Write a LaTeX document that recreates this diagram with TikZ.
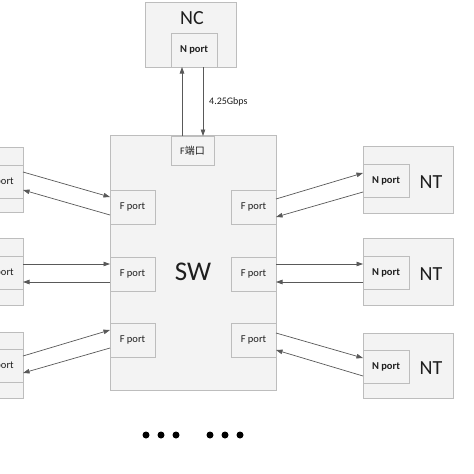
\documentclass[tikz,border=0pt]{standalone}
\usepackage{fontspec}
\setmainfont{Carlito}
\newfontfamily\cjkfont{Noto Sans CJK SC}
\usetikzlibrary{arrows.meta,calc}
\definecolor{boxline}{HTML}{BDBDBD}
\definecolor{boxfill}{HTML}{F3F3F3}
\definecolor{linkgray}{HTML}{595959}
\definecolor{txt}{HTML}{1E1E1E}
\begin{document}
\begin{tikzpicture}[x=1pt,y=-1pt,
  box/.style={draw=boxline, fill=boxfill, inner sep=0pt, outer sep=0pt, line width=0.7pt, text=txt},
  fportbox/.style={box, minimum width=45pt, minimum height=34pt, font=\fontsize{10.5}{11}\selectfont},
  nportbox/.style={box, minimum width=46pt, minimum height=33pt, font=\bfseries\fontsize{10.5}{11}\selectfont},
  ntbox/.style={box, minimum width=90pt, minimum height=66pt},
  biglabel/.style={inner sep=0pt, text=txt, font=\fontsize{20}{22}\selectfont},
  link/.style={draw=linkgray, line width=0.7pt, -{Triangle[length=6.5pt,width=4.5pt]}},
]
\useasboundingbox (0,0) rectangle (474,474);
\clip (0,0) rectangle (474,474);
\fill[white] (0,0) rectangle (474,474);

% NC
\node[box, minimum width=91pt, minimum height=65pt] (nc) at (190.5,34.5) {};
\node[biglabel] (nclabel) at (192,18) {NC};
\node[nportbox, minimum height=34pt] (ncp) at (194,50) {N port};

% SW
\node[box, minimum width=166pt, minimum height=255pt] (sw) at (193,262.5) {};
\node[biglabel, font=\fontsize{27}{29}\selectfont] (swlabel) at (193,272) {SW};
\node[fportbox, minimum width=43pt, minimum height=29pt, font=\fontsize{10}{11}\selectfont] (tf) at (192.5,150.5) {F{\cjkfont 端口}};

% F ports of SW
\node[fportbox] (lf1) at (132.5,207) {F port};
\node[fportbox] (lf2) at (132.5,274) {F port};
\node[fportbox] (lf3) at (132.5,340) {F port};
\node[fportbox] (rf1) at (253.5,207) {F port};
\node[fportbox] (rf2) at (253.5,274) {F port};
\node[fportbox] (rf3) at (253.5,340) {F port};

% NT on the right
\node[ntbox, minimum height=67pt] (nt1) at (408,179.5) {};
\node[ntbox, minimum height=67pt] (nt2) at (408,271.5) {};
\node[ntbox, minimum height=65pt] (nt3) at (408,365.5) {};
\node[nportbox] (rn1) at (386,180.5) {N port};
\node[nportbox] (rn2) at (386,272.5) {N port};
\node[nportbox] (rn3) at (386,366.5) {N port};
\node[biglabel] (nt1label) at (431,182) {NT};
\node[biglabel] (nt2label) at (431,274) {NT};
\node[biglabel] (nt3label) at (431,368) {NT};

% NT on the left (cut by the border, as in the reference)
\node[ntbox, minimum height=65pt] (lnt1) at (-22,179.5) {};
\node[ntbox, minimum height=67pt] (lnt2) at (-22,271.5) {};
\node[ntbox, minimum height=66pt] (lnt3) at (-22,365) {};
\node[nportbox, font=\fontsize{10.5}{11}\selectfont] (ln1) at (0,181.5) {N port};
\node[nportbox, font=\fontsize{10.5}{11}\selectfont] (ln2) at (0,273) {N port};
\node[nportbox, font=\fontsize{10.5}{11}\selectfont] (ln3) at (0,366) {N port};

% NC link
\draw[link] ($(tf.north)+(-10.5,0)$) -- ($(ncp.south)+(-12,0)$);
\draw[link] ($(ncp.south)+(9,0)$) -- ($(tf.north)+(10.5,0)$);
\node[anchor=west, inner sep=0pt, text=txt, font=\fontsize{10}{11}\selectfont] (rate) at (209,102) {4.25Gbps};

% row 1
\draw[link] ($(ln1.east)+(0,-9.5)$) -- ($(lf1.west)+(0,-10)$);
\draw[link] ($(lf1.west)+(0,8)$) -- ($(ln1.east)+(0,8.5)$);
\draw[link] ($(rf1.east)+(0,-8)$) -- ($(rn1.west)+(0,-7.5)$);
\draw[link] ($(rn1.west)+(0,11.5)$) -- ($(rf1.east)+(0,10)$);
% row 2
\draw[link] ($(ln2.east)+(0,-9)$) -- ($(lf2.west)+(0,-10)$);
\draw[link] ($(lf2.west)+(0,8)$) -- ($(ln2.east)+(0,9)$);
\draw[link] ($(rf2.east)+(0,-10)$) -- ($(rn2.west)+(0,-8.5)$);
\draw[link] ($(rn2.west)+(0,9.5)$) -- ($(rf2.east)+(0,8)$);
% row 3
\draw[link] ($(ln3.east)+(0,-10)$) -- ($(lf3.west)+(0,-10)$);
\draw[link] ($(lf3.west)+(0,8)$) -- ($(ln3.east)+(0,7)$);
\draw[link] ($(rf3.east)+(0,-7)$) -- ($(rn3.west)+(0,-8.5)$);
\draw[link] ($(rn3.west)+(0,9.5)$) -- ($(rf3.east)+(0,10)$);

% dots
\foreach \x in {146,161,176,210,225,240} \fill[black] (\x,435) circle (3.5);
\end{tikzpicture}
\end{document}
